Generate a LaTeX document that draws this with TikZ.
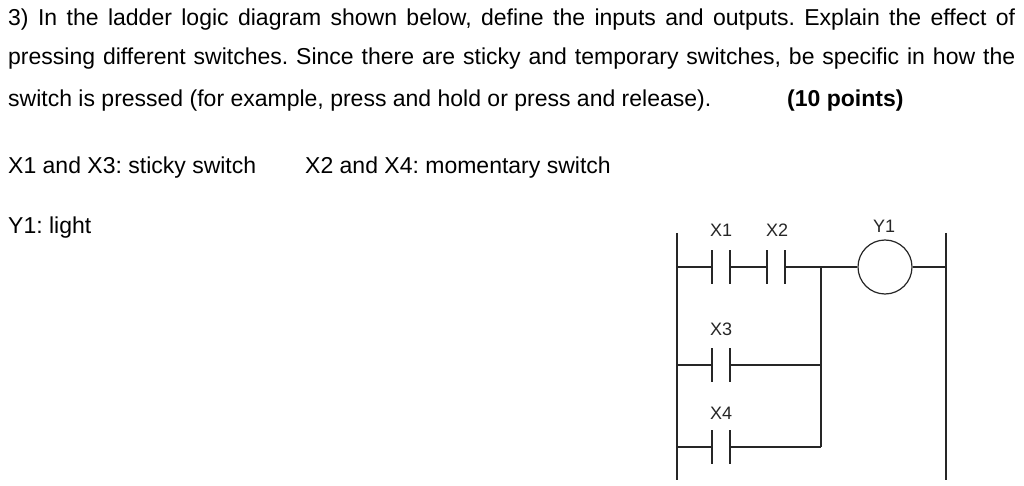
\documentclass[tikz,border=0pt]{standalone}
\usepackage{fontspec}
\setmainfont{Liberation Sans}
\frenchspacing
\begin{document}
\begin{tikzpicture}[x=1pt,y=-1pt,
  txt/.style={anchor=west,inner sep=0pt,font=\fontsize{23}{26}\selectfont},
  lbl/.style={inner sep=0pt,font=\fontsize{18}{20}\selectfont,text=black!85},
  wire/.style={line width=1.3pt,black!85},
  rail/.style={line width=1.6pt,black!85}]
\useasboundingbox (0,0) rectangle (1024,486);
\node[txt] (l1) at (8,20) {\makebox[1007pt][s]{3) In the ladder logic diagram shown below, define the inputs and outputs. Explain the effect of}};
\node[txt] (l2) at (8,59) {\makebox[1007pt][s]{pressing different switches. Since there are sticky and temporary switches, be specific in how the}};
\node[txt] (l3) at (8,101) {switch is pressed (for example, press and hold or press and release).};
\node[txt] (pts) at (787,101) {\bfseries (10 points)};
\node[txt] (s1) at (8,168) {X1 and X3: sticky switch};
\node[txt] (s2) at (305,168) {X2 and X4: momentary switch};
\node[txt] (s3) at (8,228) {Y1: light};
% rails
\coordinate (LT) at (677,233); \coordinate (LB) at (677,480);
\coordinate (RT) at (946,233); \coordinate (RB) at (946,480);
\draw[rail] (LT) -- (LB);
\draw[rail] (RT) -- (RB);
% contacts
\foreach \n/\x/\y in {c1/712/267,c2/767/267,c3/712/365,c4/712/447}{
  \coordinate (\n a) at (\x,\y);
  \coordinate (\n b) at (\x+18,\y);
  \draw[wire] (\x,\y-17) -- (\x,\y+17);
  \draw[wire] (\x+18,\y-17) -- (\x+18,\y+17);
}
\node[lbl] (tx1) at (721,230) {X1};
\node[lbl] (tx2) at (777,230) {X2};
\node[lbl] (tx3) at (721,329) {X3};
\node[lbl] (tx4) at (721,413) {X4};
\node[lbl] (ty1) at (884,226) {Y1};
\node[circle,draw,line width=1.2pt,black!85,minimum size=54pt,inner sep=0pt] (coil) at (885,267) {};
\coordinate (J1) at (821,267); \coordinate (J3) at (821,447);
\coordinate (R1) at (946,267);
\draw[wire] (677,267) -- (c1a);
\draw[wire] (c1b) -- (c2a);
\draw[wire] (c2b) -- (coil.west);
\draw[wire] (coil.east) -- (R1);
\draw[wire] (J1) -- (J3);
\draw[wire] (677,365) -- (c3a);
\draw[wire] (c3b) -- (821,365);
\draw[wire] (677,447) -- (c4a);
\draw[wire] (c4b) -- (J3);
\end{tikzpicture}
\end{document}
